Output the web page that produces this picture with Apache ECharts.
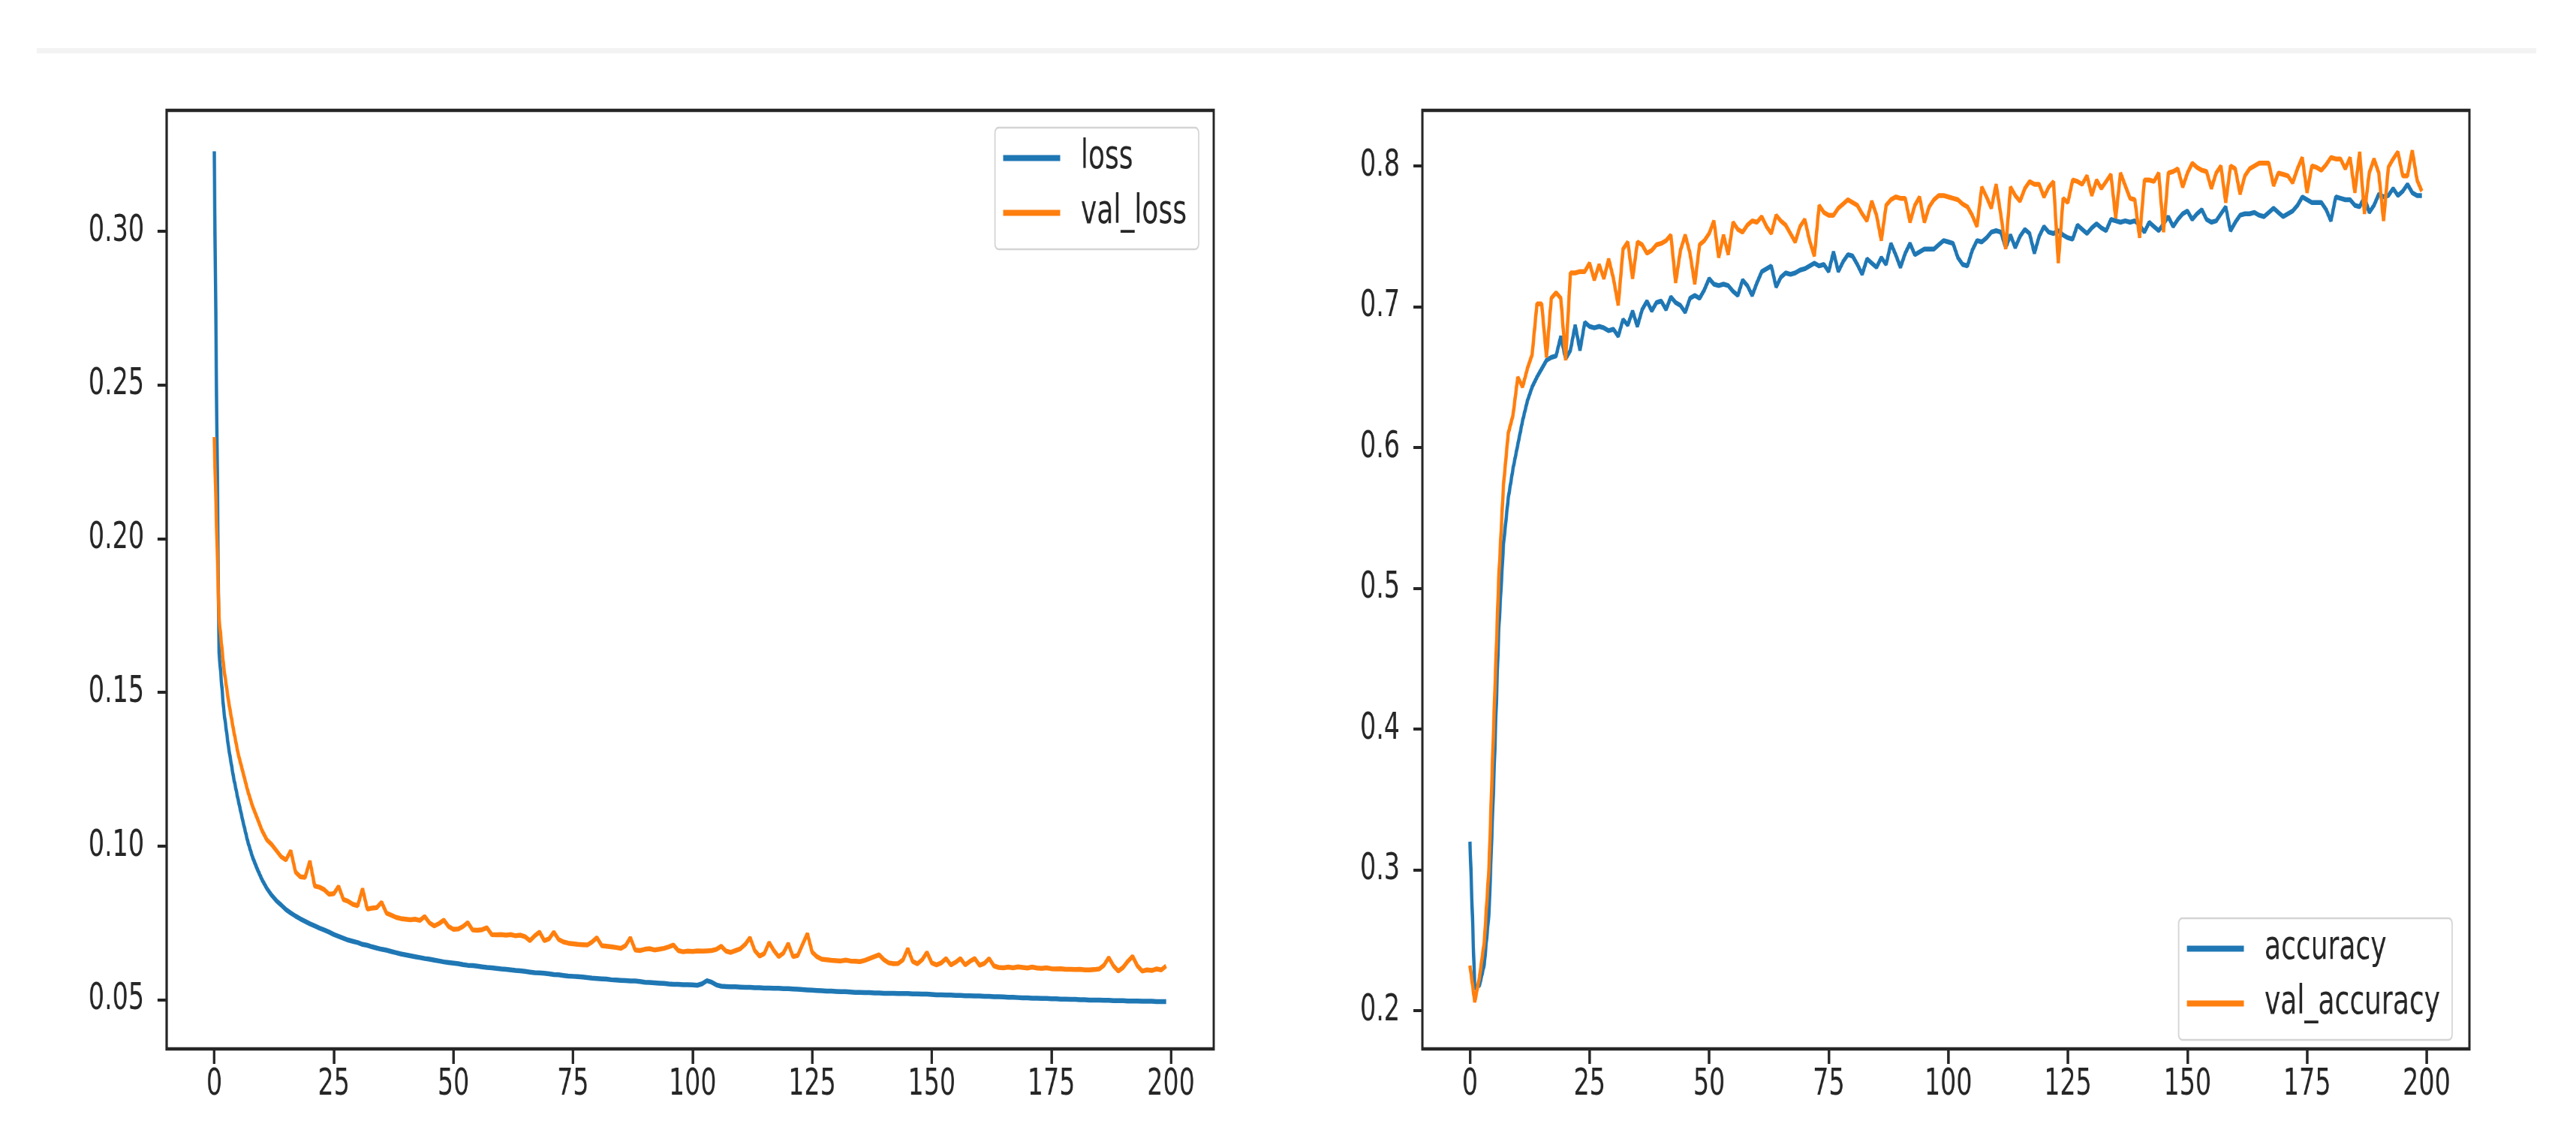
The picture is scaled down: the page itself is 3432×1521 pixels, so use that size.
<!DOCTYPE html>
<html><head><meta charset="utf-8">
<script src="https://cdn.jsdelivr.net/npm/echarts@6/dist/echarts.min.js"></script>
<style>
html,body{margin:0;padding:0;background:#fff;overflow:hidden}
#wrap{width:3432px;height:1521px;overflow:hidden;position:relative}
#c{position:absolute;left:0;top:0;height:1521px;transform-origin:0 0}
</style>
</head><body><div id="wrap"><div id="c"></div></div>
<script>
const epochs = Array.from({length: 200}, (_, i) => i);
const xTicks = [0, 25, 50, 75, 100, 125, 150, 175, 200];
const lossTicks = [0.05, 0.10, 0.15, 0.20, 0.25, 0.30];
const accTicks = [0.2, 0.3, 0.4, 0.5, 0.6, 0.7, 0.8];

const loss = [
0.326,0.163,0.144,0.132,0.1226,0.115,0.108,0.1015,0.0964,0.0925,
0.0890,0.0862,0.0840,0.0822,0.0808,0.0793,0.0782,0.0772,0.0763,0.0755,
0.0747,0.0740,0.0733,0.0727,0.0720,0.0712,0.0706,0.0700,0.0694,0.0690,
0.0686,0.0680,0.0677,0.0672,0.0668,0.0664,0.0661,0.0657,0.0653,0.0649,
0.0646,0.0643,0.0640,0.0637,0.0634,0.0632,0.0629,0.0626,0.0623,0.0621,
0.0619,0.0617,0.0614,0.0612,0.0611,0.0609,0.0607,0.0605,0.0604,0.0602,
0.0600,0.0599,0.0597,0.0595,0.0594,0.0592,0.0590,0.0588,0.0587,0.0586,
0.0584,0.0582,0.0581,0.0579,0.0577,0.0576,0.0575,0.0574,0.0572,0.0570,
0.0569,0.0568,0.0567,0.0565,0.0564,0.0563,0.0562,0.0561,0.0561,0.0559,
0.0557,0.0556,0.0555,0.0554,0.0553,0.0551,0.0550,0.0550,0.0549,0.0549,
0.0548,0.0547,0.0552,0.0562,0.0557,0.0548,0.0544,0.0543,0.0542,0.0542,
0.0541,0.0540,0.0540,0.0539,0.0539,0.0538,0.0538,0.0537,0.0537,0.0536,
0.0536,0.0535,0.0534,0.0533,0.0532,0.0531,0.0530,0.0529,0.0528,0.0528,
0.0527,0.0526,0.0526,0.0525,0.0524,0.0524,0.0523,0.0523,0.0522,0.0522,
0.0521,0.0521,0.0521,0.0520,0.0520,0.0520,0.0519,0.0519,0.0518,0.0518,
0.0517,0.0516,0.0516,0.0515,0.0515,0.0514,0.0514,0.0513,0.0513,0.0512,
0.0512,0.0511,0.0511,0.0510,0.0510,0.0509,0.0508,0.0508,0.0507,0.0506,
0.0506,0.0505,0.0505,0.0504,0.0504,0.0503,0.0503,0.0502,0.0502,0.0501,
0.0501,0.0500,0.0500,0.0499,0.0499,0.0499,0.0498,0.0498,0.0497,0.0497,
0.0497,0.0496,0.0496,0.0496,0.0495,0.0495,0.0495,0.0494,0.0494,0.0494
];
const valLoss = [
0.233,0.174,0.158,0.147,0.138,0.130,0.124,0.118,0.113,0.109,
0.105,0.102,0.1005,0.0985,0.0965,0.0955,0.0985,0.0915,0.0900,0.0898,
0.0951,0.0870,0.0866,0.0858,0.0843,0.0845,0.0869,0.0826,0.0820,0.0810,
0.0806,0.0861,0.0795,0.0798,0.0800,0.0817,0.0782,0.0775,0.0768,0.0764,
0.0762,0.0760,0.0762,0.0758,0.0771,0.0750,0.0740,0.0748,0.0759,0.0738,
0.0729,0.0730,0.0738,0.0751,0.0727,0.0726,0.0728,0.0734,0.0712,0.0711,
0.0712,0.0710,0.0712,0.0708,0.0710,0.0705,0.0692,0.0708,0.0720,0.0692,
0.0698,0.0720,0.0696,0.0688,0.0684,0.0682,0.0680,0.0679,0.0678,0.0688,
0.0702,0.0676,0.0674,0.0672,0.0670,0.0667,0.0676,0.0702,0.0662,0.0660,
0.0664,0.0666,0.0662,0.0664,0.0667,0.0672,0.0678,0.0660,0.0656,0.0658,
0.0657,0.0659,0.0658,0.0659,0.0660,0.0664,0.0674,0.0658,0.0654,0.0660,
0.0666,0.0680,0.0702,0.0660,0.0642,0.0650,0.0686,0.0660,0.0640,0.0652,
0.0683,0.0640,0.0644,0.0680,0.0715,0.0655,0.0640,0.0632,0.0630,0.0628,
0.0627,0.0626,0.0629,0.0626,0.0625,0.0624,0.0628,0.0634,0.0640,0.0646,
0.0630,0.0620,0.0617,0.0618,0.0630,0.0666,0.0625,0.0617,0.0630,0.0654,
0.0620,0.0613,0.0620,0.0634,0.0613,0.0622,0.0634,0.0613,0.0625,0.0634,
0.0612,0.0618,0.0634,0.0610,0.0605,0.0604,0.0606,0.0604,0.0607,0.0605,
0.0603,0.0606,0.0603,0.0602,0.0604,0.0601,0.0600,0.0601,0.0599,0.0599,
0.0598,0.0599,0.0597,0.0597,0.0598,0.0600,0.0612,0.0637,0.0610,0.0593,
0.0605,0.0625,0.0641,0.0610,0.0593,0.0597,0.0595,0.0600,0.0597,0.0610
];
const accuracy = [
0.320,0.216,0.218,0.233,0.270,0.365,0.469,0.531,0.564,0.585,
0.602,0.619,0.633,0.643,0.650,0.656,0.662,0.664,0.665,0.679,
0.663,0.669,0.687,0.669,0.689,0.686,0.685,0.686,0.685,0.683,
0.684,0.679,0.691,0.687,0.697,0.686,0.698,0.704,0.697,0.703,
0.704,0.698,0.707,0.703,0.701,0.696,0.706,0.708,0.706,0.712,
0.720,0.716,0.715,0.716,0.715,0.711,0.708,0.719,0.715,0.708,
0.717,0.725,0.727,0.729,0.714,0.721,0.724,0.723,0.724,0.726,
0.727,0.729,0.731,0.729,0.730,0.725,0.739,0.725,0.732,0.737,
0.736,0.730,0.723,0.734,0.731,0.728,0.735,0.730,0.745,0.737,
0.728,0.738,0.745,0.737,0.739,0.741,0.741,0.741,0.744,0.747,
0.746,0.745,0.735,0.730,0.729,0.740,0.747,0.746,0.749,0.753,
0.754,0.753,0.742,0.751,0.742,0.750,0.755,0.752,0.738,0.750,
0.757,0.753,0.752,0.754,0.751,0.749,0.748,0.758,0.755,0.752,
0.756,0.759,0.756,0.754,0.762,0.761,0.760,0.761,0.760,0.761,
0.758,0.753,0.760,0.757,0.754,0.759,0.764,0.757,0.762,0.766,
0.768,0.762,0.766,0.769,0.762,0.760,0.761,0.766,0.771,0.754,
0.760,0.765,0.766,0.766,0.767,0.765,0.764,0.767,0.770,0.767,
0.764,0.766,0.768,0.772,0.778,0.776,0.774,0.774,0.774,0.769,
0.761,0.778,0.777,0.776,0.776,0.772,0.771,0.778,0.767,0.772,
0.780,0.778,0.779,0.784,0.779,0.782,0.787,0.781,0.779,0.779
];
const valAccuracy = [
0.232,0.206,0.224,0.249,0.303,0.407,0.506,0.573,0.610,0.623,
0.650,0.643,0.656,0.666,0.702,0.702,0.664,0.706,0.710,0.706,
0.662,0.724,0.724,0.725,0.725,0.731,0.719,0.730,0.720,0.734,
0.720,0.701,0.741,0.746,0.720,0.746,0.744,0.738,0.740,0.744,
0.745,0.747,0.751,0.717,0.740,0.751,0.738,0.716,0.744,0.747,
0.752,0.761,0.735,0.751,0.737,0.760,0.755,0.753,0.758,0.761,
0.760,0.764,0.757,0.752,0.765,0.761,0.758,0.752,0.746,0.757,
0.762,0.747,0.736,0.772,0.767,0.765,0.765,0.770,0.773,0.776,
0.774,0.772,0.766,0.761,0.775,0.765,0.747,0.772,0.776,0.778,
0.777,0.777,0.760,0.772,0.778,0.760,0.771,0.776,0.779,0.779,
0.778,0.777,0.776,0.773,0.771,0.765,0.757,0.785,0.778,0.770,
0.787,0.765,0.741,0.785,0.779,0.775,0.784,0.789,0.787,0.787,
0.778,0.785,0.789,0.731,0.777,0.774,0.790,0.789,0.787,0.793,
0.779,0.790,0.784,0.789,0.794,0.763,0.795,0.786,0.777,0.776,
0.749,0.790,0.790,0.789,0.795,0.753,0.795,0.796,0.798,0.785,
0.795,0.802,0.799,0.797,0.796,0.784,0.795,0.800,0.774,0.800,
0.798,0.780,0.793,0.798,0.800,0.802,0.802,0.802,0.786,0.795,
0.794,0.793,0.788,0.798,0.806,0.781,0.800,0.799,0.797,0.801,
0.806,0.805,0.805,0.798,0.806,0.781,0.810,0.766,0.795,0.805,
0.795,0.761,0.799,0.805,0.810,0.793,0.793,0.811,0.790,0.782
];

// The reference figure is squeezed horizontally; draw wide, then scale x.
const SX = 0.68;
const W = 3432 / SX;
const X = px => px / SX;
const el = document.getElementById('c');
el.style.width = W + 'px';
el.style.transform = 'scaleX(' + SX + ')';

const FONT = "'DejaVu Sans', sans-serif";
const BLUE = '#1f77b4', ORANGE = '#ff7f0e', INK = '#262626';

function xAxisCfg(gi) {
  return {
    type: 'value', gridIndex: gi, min: -9.95, max: 208.95,
    axisLine: {show: false, onZero: false}, splitLine: {show: false},
    axisTick: {show: true, length: 20, lineStyle: {color: INK, width: X(3.3)}, customValues: xTicks},
    axisLabel: {show: true, customValues: xTicks, margin: 24, fontSize: 49, fontFamily: FONT, color: INK,
      formatter: v => String(Math.round(v))}
  };
}
function yAxisCfg(gi, mn, mx, ticks, dec) {
  return {
    type: 'value', gridIndex: gi, min: mn, max: mx,
    axisLine: {show: false, onZero: false}, splitLine: {show: false},
    axisTick: {show: true, length: X(12), lineStyle: {color: INK, width: 4}, customValues: ticks},
    axisLabel: {show: true, customValues: ticks, margin: X(30), fontSize: 49, fontFamily: FONT, color: INK,
      formatter: v => v.toFixed(dec)}
  };
}
function lineSeries(name, arr, color, gi) {
  return {
    name, type: 'line', xAxisIndex: gi, yAxisIndex: gi,
    data: arr.map((v, i) => [epochs[i], v]),
    showSymbol: false, symbol: 'none', animation: false,
    lineStyle: {color, width: 6.5}, itemStyle: {color}
  };
}
function legendCfg(names, right, top) {
  return {
    data: names, orient: 'vertical', right: X(right), top,
    icon: 'rect', itemWidth: X(76), itemHeight: 8, itemGap: 20,
    padding: [14, X(16), 22, X(11)],
    backgroundColor: 'rgba(255,255,255,0.9)', borderColor: '#d4d4d4', borderWidth: 2.5, borderRadius: 7,
    textStyle: {fontSize: 53, fontFamily: FONT, color: INK, padding: [0, 0, 0, X(24)], lineHeight: 50},
    selectedMode: false
  };
}

const chart = echarts.init(el, null, {renderer: 'canvas', width: W, height: 1521});
chart.setOption({
  backgroundColor: '#ffffff',
  animation: false,
  graphic: [{type: 'rect', shape: {x: X(49), y: 64, width: X(3330), height: 7}, style: {fill: '#f3f3f3'}, silent: true, z: -10}],
  grid: [
    {left: X(222), top: 147, width: X(1395), height: 1250, show: true, borderColor: INK, borderWidth: 4.5, backgroundColor: 'transparent'},
    {left: X(1895), top: 147, width: X(1395), height: 1250, show: true, borderColor: INK, borderWidth: 4.5, backgroundColor: 'transparent'}
  ],
  xAxis: [xAxisCfg(0), xAxisCfg(1)],
  yAxis: [yAxisCfg(0, 0.0340, 0.3393, lossTicks, 2), yAxisCfg(1, 0.1728, 0.8395, accTicks, 1)],
  legend: [legendCfg(['loss', 'val_loss'], 3432 - 1597, 170), legendCfg(['accuracy', 'val_accuracy'], 3432 - 3267, 1223)],
  series: [
    lineSeries('loss', loss, BLUE, 0),
    lineSeries('val_loss', valLoss, ORANGE, 0),
    lineSeries('accuracy', accuracy, BLUE, 1),
    lineSeries('val_accuracy', valAccuracy, ORANGE, 1)
  ]
});
</script></body></html>
